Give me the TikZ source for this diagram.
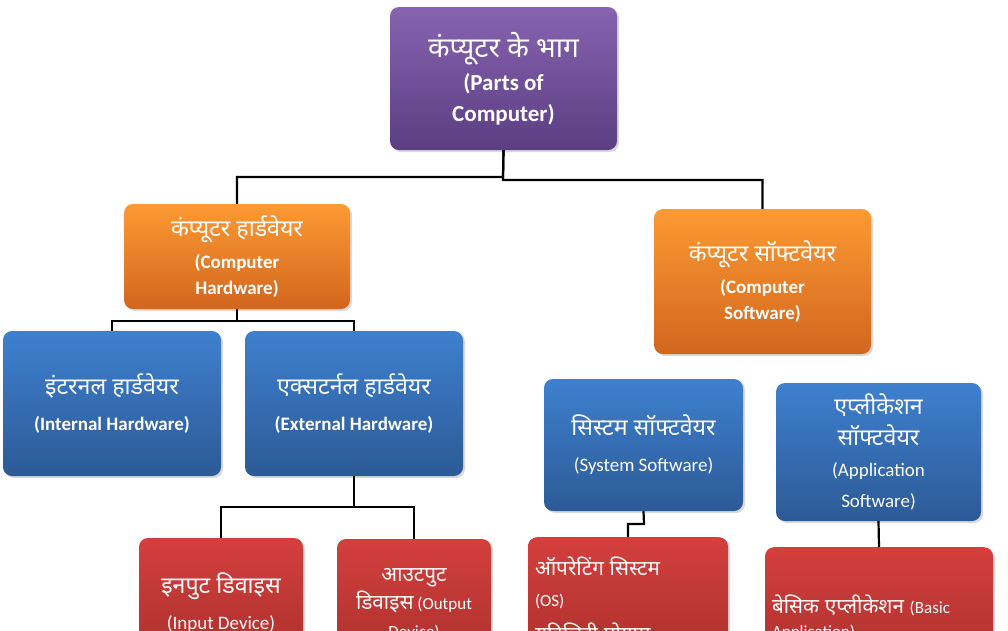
\documentclass[tikz,border=0pt]{standalone}
\usepackage{fontspec}
\setmainfont{Carlito}
\newfontfamily\dev[Script=Devanagari,Scale=1.22]{Noto Sans}
\usetikzlibrary{shadows}
\begin{document}
\begin{tikzpicture}[x=1pt,y=-1pt,
  box/.style={rounded corners=9pt, align=center, text=white, inner sep=4pt,
    drop shadow={opacity=0.3,shadow xshift=2pt,shadow yshift=-2pt}},
  purp/.style={box, top color=purpA, bottom color=purpB},
  orng/.style={box, top color=orA, bottom color=orB},
  blu/.style={box, top color=blA, bottom color=blB},
  rd/.style={box, top color=rdA, bottom color=rdB},
  conn/.style={line width=2.2pt, black}]
\definecolor{purpA}{HTML}{8763B0}\definecolor{purpB}{HTML}{5B3E82}
\definecolor{orA}{HTML}{FC9A33}\definecolor{orB}{HTML}{D2661E}
\definecolor{blA}{HTML}{3E80CF}\definecolor{blB}{HTML}{2C5A96}
\definecolor{rdA}{HTML}{D43F3D}\definecolor{rdB}{HTML}{A8302C}
\useasboundingbox (0,0) rectangle (1008,630);
% boxes
\node[purp, minimum width=227pt, minimum height=143pt, font=\fontsize{23}{31}\selectfont\bfseries] (top) at (503.5,78.5)
  {{\dev\bfseries कंप्यूटर के भाग}\\[2pt](Parts of\\Computer)};
\node[orng, minimum width=226pt, minimum height=105pt, font=\fontsize{19}{26}\selectfont\bfseries] (hw) at (237,256.5)
  {{\dev\bfseries कंप्यूटर हार्डवेयर}\\[6pt](Computer\\Hardware)};
\node[orng, minimum width=217pt, minimum height=145pt, font=\fontsize{19}{26}\selectfont\bfseries] (sw) at (762.5,281.5)
  {{\dev\bfseries कंप्यूटर सॉफ्टवेयर}\\[6pt](Computer\\Software)};
\node[blu, minimum width=218pt, minimum height=145pt, font=\fontsize{19}{36}\selectfont] (ih) at (112,403.5)
  {{\dev इंटरनल हार्डवेयर}\\\textbf{(Internal Hardware)}};
\node[blu, minimum width=218pt, minimum height=145pt, font=\fontsize{19}{36}\selectfont] (eh) at (354,403.5)
  {{\dev एक्सटर्नल हार्डवेयर}\\\textbf{(External Hardware)}};
\node[blu, minimum width=199pt, minimum height=132pt, font=\fontsize{19}{36}\selectfont] (ss) at (643.5,445)
  {{\dev सिस्टम सॉफ्टवेयर}\\(System Software)};
\node[blu, minimum width=205pt, minimum height=138pt, font=\fontsize{19}{31}\selectfont] (as) at (878.5,452)
  {{\dev एप्लीकेशन}\\{\dev सॉफ्टवेयर}\\(Application\\Software)};
\node[rd, minimum width=164pt, minimum height=130pt, font=\fontsize{19}{36}\selectfont] (in) at (221,603)
  {{\dev इनपुट डिवाइस}\\(Input Device)};
\node[rd, minimum width=154pt, minimum height=130pt, font=\fontsize{17}{28}\selectfont] (out) at (414,604)
  {{\dev आउटपुट}\\{\dev डिवाइस} (Output\\Device)};
\node[rd, minimum width=200pt, minimum height=130pt, align=left, text width=186pt, anchor=north, font=\fontsize{17}{31}\selectfont] (os) at (628,537)
  {{\dev ऑपरेटिंग सिस्टम}\\(OS)\\[4pt]{\dev यूटिलिटी प्रोग्राम}};
\node[rd, minimum width=228pt, minimum height=130pt, align=left, text width=214pt, anchor=north, font=\fontsize{17}{24}\selectfont] (ba) at (879,547)
  {\rule{0pt}{30pt}{\dev बेसिक एप्लीकेशन} (Basic\\Application)};
% connectors
\draw[conn] (top.south) -- (503,177) -| (hw.north);
\draw[conn] (top.south) -- (503,180) -| (sw.north);
\draw[conn] (hw.south) -- (237,321) -| (ih.north);
\draw[conn] (hw.south) -- (237,321) -| (eh.north);
\draw[conn] (eh.south) -- (354,507) -| (in.north);
\draw[conn] (eh.south) -- (354,507) -| (out.north);
\draw[conn] (ss.south) -- (644,524) -| (os.north);
\draw[conn] (as.south) -- (ba.north);
\end{tikzpicture}
\end{document}
